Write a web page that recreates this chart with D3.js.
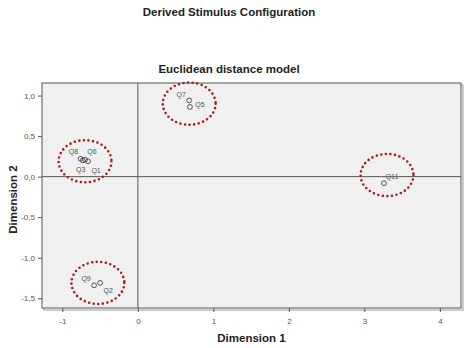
<!DOCTYPE html>
<html>
<head>
<meta charset="utf-8">
<script src="https://cdn.jsdelivr.net/npm/d3@7"></script>
<style>
  body { margin: 0; background: #fff; }
  text { font-family: Arial, "Liberation Sans", sans-serif; }
</style>
</head>
<body>
<svg id="chart"></svg>
<script>
// Stimulus coordinates
const names = ["Q1", "Q3", "Q6", "Q8", "Q7", "Q5", "Q11", "Q9", "Q2"];
const dim1 = [-0.66, -0.73, -0.70, -0.76, 0.68, 0.69, 3.26, -0.58, -0.50];
const dim2 = [0.19, 0.20, 0.21, 0.22, 0.94, 0.86, -0.08, -1.34, -1.31];

// Highlighted groups (dotted ellipses), centre in data units
const groupX = [-0.70, 0.68, 3.30, -0.53];
const groupY = [0.19, 0.90, 0.02, -1.31];
const groupRx = 0.35;
const groupRy = 0.26;

const xTicks = [-1, 0, 1, 2, 3, 4];
const yTicks = [-1.5, -1.0, -0.5, 0.0, 0.5, 1.0];

// Where each label sits relative to its point (layout only)
const labelOffsets = {
  Q1: [8, 9], Q3: [-2, 9], Q6: [7, -8], Q8: [-7, -7],
  Q7: [-8, -6], Q5: [10, -2], Q11: [8, -7], Q9: [-8, -7], Q2: [8, 8]
};

const width = 474, height = 348;
const margin = { top: 83, right: 13, bottom: 40, left: 42 };
const plotW = width - margin.left - margin.right;
const plotH = height - margin.top - margin.bottom;

const svg = d3.select("#chart").attr("width", width).attr("height", height);

// Titles
svg.append("text")
  .attr("x", 229).attr("y", 16)
  .attr("text-anchor", "middle")
  .style("font-size", "11.5px").style("font-weight", "bold").style("fill", "#222")
  .text("Derived Stimulus Configuration");

svg.append("text")
  .attr("x", 229).attr("y", 73)
  .attr("text-anchor", "middle")
  .style("font-size", "11.5px").style("font-weight", "bold").style("fill", "#222")
  .text("Euclidean distance model");

const g = svg.append("g").attr("transform", `translate(${margin.left},${margin.top})`);

const x = d3.scaleLinear().domain([-1.27, 4.28]).range([0, plotW]);
const y = d3.scaleLinear().domain([-1.62, 1.155]).range([plotH, 0]);

// Plot background + shadow
g.append("rect")
  .attr("x", 2).attr("y", 2).attr("width", plotW).attr("height", plotH)
  .attr("fill", "none").attr("stroke", "#bbb").attr("stroke-width", 1.5);
g.append("rect")
  .attr("width", plotW).attr("height", plotH)
  .attr("fill", "#f0f0f0").attr("stroke", "#555").attr("stroke-width", 1);

// Reference lines at 0
g.append("line")
  .attr("x1", x(0)).attr("x2", x(0)).attr("y1", 0).attr("y2", plotH)
  .attr("stroke", "#555").attr("stroke-width", 1);
g.append("line")
  .attr("x1", 0).attr("x2", plotW).attr("y1", y(0)).attr("y2", y(0))
  .attr("stroke", "#555").attr("stroke-width", 1);

// Axes
const fmtY = d => d3.format(".1f")(d).replace(".", ",").replace("−", "-");
const xAxis = d3.axisBottom(x).tickValues(xTicks).tickSize(4).tickFormat(d => d);
const yAxis = d3.axisLeft(y).tickValues(yTicks).tickSize(4).tickFormat(fmtY);

const gx = g.append("g").attr("transform", `translate(0,${plotH})`).call(xAxis);
const gy = g.append("g").call(yAxis);
[gx, gy].forEach(a => {
  a.select(".domain").remove();
  a.selectAll(".tick line").attr("stroke", "#555");
  a.selectAll(".tick text")
    .style("font-size", "8px").style("fill", "#555")
    .style("font-family", "Arial, 'Liberation Sans', sans-serif");
});
gx.selectAll(".tick text").attr("dy", "1.1em");

// Axis titles
svg.append("text")
  .attr("x", margin.left + plotW / 2).attr("y", 342)
  .attr("text-anchor", "middle")
  .style("font-size", "11.5px").style("font-weight", "bold").style("fill", "#222")
  .text("Dimension 1");

svg.append("text")
  .attr("transform", `translate(17,${margin.top + plotH / 2 + 4}) rotate(-90)`)
  .attr("text-anchor", "middle")
  .style("font-size", "11.5px").style("font-weight", "bold").style("fill", "#222")
  .text("Dimension 2");

// Points
const points = names.map((n, i) => ({ name: n, d1: dim1[i], d2: dim2[i] }));

g.selectAll(".pt").data(points).enter()
  .append("circle")
  .attr("class", "pt")
  .attr("cx", d => x(d.d1)).attr("cy", d => y(d.d2))
  .attr("r", 2.4)
  .attr("fill", "none").attr("stroke", "#444").attr("stroke-width", 0.9);

g.selectAll(".lbl").data(points).enter()
  .append("text")
  .attr("class", "lbl")
  .attr("x", d => x(d.d1) + labelOffsets[d.name][0])
  .attr("y", d => y(d.d2) + labelOffsets[d.name][1])
  .attr("text-anchor", "middle")
  .attr("dominant-baseline", "central")
  .style("font-size", "7px").style("fill", "#555")
  .text(d => d.name);

// Dotted ellipses around groups
const groups = groupX.map((gx0, i) => ({ cx: gx0, cy: groupY[i] }));
g.selectAll(".grp").data(groups).enter()
  .append("ellipse")
  .attr("class", "grp")
  .attr("cx", d => x(d.cx)).attr("cy", d => y(d.cy))
  .attr("rx", x(groupRx) - x(0)).attr("ry", y(0) - y(groupRy))
  .attr("fill", "none")
  .attr("stroke", "#b01c1c").attr("stroke-width", 2.6)
  .attr("stroke-linecap", "round")
  .attr("stroke-dasharray", "0 4.6");
</script>
</body>
</html>
